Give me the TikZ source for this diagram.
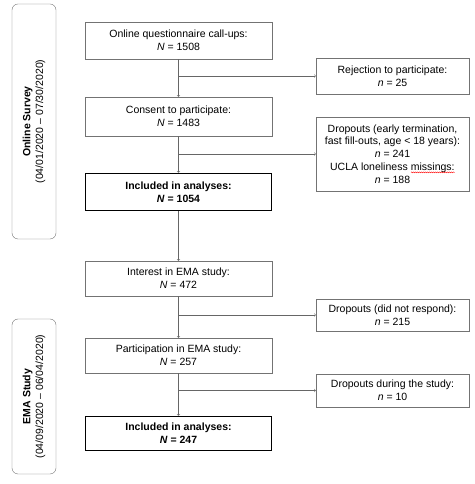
\documentclass[tikz,border=0pt]{standalone}
\usepackage{fontspec}
\setmainfont{Liberation Sans}
\usepackage{tikz}
\usetikzlibrary{arrows,decorations.pathmorphing,positioning,shapes}

% red spell-check wave under a word
\newcommand{\spellwave}[1]{\tikz[baseline=(sw.base)]{\node[draw=none, inner sep=0pt, outer sep=0pt, minimum width=0pt, minimum height=0pt, align=none, rotate=0] (sw) {#1}; \draw[red, line width=0.4pt, decorate, decoration={snake, amplitude=0.5pt, segment length=2pt}] ([yshift=-1.8pt]sw.base west) -- ([yshift=-1.8pt]sw.base east);}}

\begin{document}
\begin{tikzpicture}
[
	x	= 1pt,	% one unit per pixel of the reference
	y	= 1pt,
	font	= \fontsize{10.5}{12.8}\selectfont,
	stagebox/.style	= {draw=black!55, thin, align=center, inner sep=1pt, minimum width=187pt},
	keptbox/.style	= {draw=black, line width=1.6pt, align=center, inner sep=1pt, minimum width=186pt, font=\fontsize{10.5}{12.8}\selectfont\bfseries},
	lossbox/.style	= {draw=black!55, thin, align=center, inner sep=1pt, minimum width=153pt},
	phasebox/.style	= {draw=black!55, thin, rounded corners=6pt, align=center, rotate=90, inner sep=1pt, minimum height=44pt},
	flow/.style	= {->, draw=black!60, thin},
]

\useasboundingbox (0,0) rectangle (474,484);

% study phases
\node [phasebox, minimum width=235pt] (survey) at (34,362.5) {\textbf{Online Survey}\\(04/01/2020 -- 07/30/2020)};
\node [phasebox, minimum width=155pt] (ema) at (34,87.5) {\textbf{EMA Study}\\(04/09/2020 -- 06/04/2020)};

% main flow
\node [stagebox, minimum height=37pt] (callups) at (178.5,443.5) {Online questionnaire call-ups:\\\textit{N} = 1508};
\node [stagebox, minimum height=39pt] (consent) at (178.5,367.5) {Consent to participate:\\\textit{N} = 1483};
\node [keptbox, minimum height=37pt] (included1) at (178.5,292) {Included in analyses:\\\textit{N} = 1054};
\node [stagebox, minimum height=35pt] (interest) at (178.5,205.5) {Interest in EMA study:\\\textit{N} = 472};
\node [stagebox, minimum height=35pt] (participation) at (178.5,128.5) {Participation in EMA study:\\\textit{N} = 257};
\node [keptbox, minimum height=34pt] (included2) at (178.5,50.5) {Included in analyses:\\\textit{N} = 247};

% losses
\node [lossbox, minimum height=36pt] (rejection) at (392.5,408) {Rejection to participate:\\\textit{n} = 25};
\node [lossbox, minimum height=74pt] (dropsurvey) at (392.5,330) {Dropouts (early termination,\\fast fill-outs, age < 18 years):\\\textit{n} = 241\\UCLA loneliness \spellwave{missings:}\\\textit{n} = 188};
\node [lossbox, minimum height=32pt] (noresponse) at (392.5,169) {Dropouts (did not respond):\\\textit{n} = 215};
\node [lossbox, minimum height=33pt] (dropema) at (392.5,93.5) {Dropouts during the study:\\\textit{n} = 10};

\draw [flow] (callups) -- (consent);
\draw [flow] (consent) -- (included1);
\draw [flow] (included1) -- (interest);
\draw [flow] (interest) -- (participation);
\draw [flow] (participation) -- (included2);

\coordinate (split1) at (callups.south |- rejection.west);
\coordinate (split2) at (consent.south |- dropsurvey.west);
\coordinate (split3) at (interest.south |- noresponse.west);
\coordinate (split4) at (participation.south |- dropema.west);

\draw [flow] (split1) -- (rejection);
\draw [flow] (split2) -- (dropsurvey);
\draw [flow] (split3) -- (noresponse);
\draw [flow] (split4) -- (dropema);

\end{tikzpicture}
\end{document}
